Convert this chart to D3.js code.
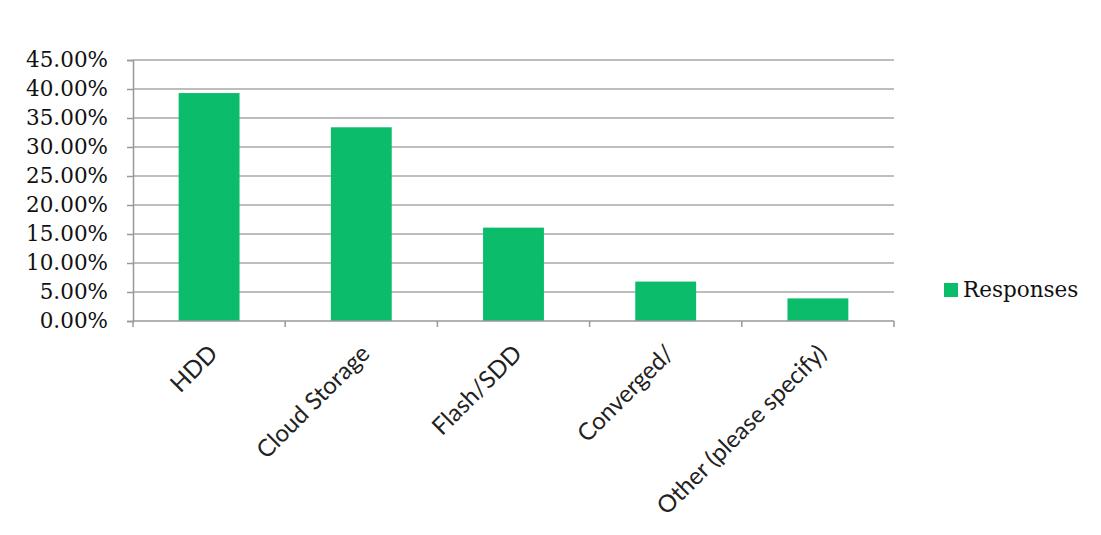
<!DOCTYPE html>
<html>
<head>
<meta charset="utf-8">
<script src="https://cdn.jsdelivr.net/npm/d3@7"></script>
<style>
  body { margin: 0; background: #fff; }
</style>
</head>
<body>
<svg id="chart" width="1101" height="535"></svg>
<script>
// chart data
const categories = ['HDD', 'Cloud Storage', 'Flash/SDD', 'Converged/', 'Other (please specify)'];
const responses = [39.3, 33.4, 16.1, 6.8, 3.9];
const yTicks = [0, 5, 10, 15, 20, 25, 30, 35, 40, 45];
const seriesName = 'Responses';

const svg = d3.select('#chart');
const margin = { left: 133, right: 207, top: 60, bottom: 214 };
const width = 1101 - margin.left - margin.right;
const height = 535 - margin.top - margin.bottom;
const green = '#0bbd6a';

const g = svg.append('g').attr('transform', `translate(${margin.left},${margin.top})`);

const x = d3.scaleBand().domain(categories).range([0, width]).paddingInner(0.6).paddingOuter(0.3);
const y = d3.scaleLinear().domain([0, 45]).range([height, 0]);

// gridlines
g.append('g')
    .selectAll('line')
    .data(yTicks.slice(1))
    .enter().append('line')
    .attr('x1', 0).attr('x2', width)
    .attr('y1', d => y(d)).attr('y2', d => y(d))
    .attr('stroke', '#bdbdbd')
    .attr('stroke-width', 2);

// bars
g.append('g')
    .selectAll('rect')
    .data(responses)
    .enter().append('rect')
    .attr('x', (d, i) => x(categories[i]))
    .attr('y', d => y(d))
    .attr('width', x.bandwidth())
    .attr('height', d => height - y(d))
    .attr('fill', green);

// y axis
const yAxis = g.append('g')
    .call(d3.axisLeft(y).tickValues(yTicks).tickFormat(d => d.toFixed(2) + '%').tickSize(6).tickPadding(19));
yAxis.selectAll('line, path').attr('stroke', '#999').attr('stroke-width', 1.5);
yAxis.selectAll('text')
    .attr('fill', '#111')
    .style('font-family', '"DejaVu Serif", serif')
    .style('font-size', '21.5px');

// x axis, ticks at band boundaries
const bounds = d3.range(categories.length + 1).map(i => i * width / categories.length);
const xAxis = g.append('g').attr('transform', `translate(0,${height})`);
xAxis.append('line').attr('x1', 0).attr('x2', width).attr('stroke', '#999').attr('stroke-width', 1.5);
xAxis.selectAll('.tk')
    .data(bounds)
    .enter().append('line')
    .attr('class', 'tk')
    .attr('x1', d => d).attr('x2', d => d)
    .attr('y1', 0).attr('y2', 6)
    .attr('stroke', '#999').attr('stroke-width', 1.5);

xAxis.selectAll('.cat')
    .data(categories)
    .enter().append('text')
    .attr('class', 'cat')
    .attr('transform', d => `translate(${x(d) + x.bandwidth() / 2 + 10},${34}) rotate(-45)`)
    .attr('text-anchor', 'end')
    .attr('fill', '#222')
    .style('font-family', 'Lato, sans-serif')
    .style('font-size', '24px')
    .text(d => d);

// legend
const legend = svg.append('g').attr('transform', 'translate(944,283)');
legend.append('rect').attr('width', 14).attr('height', 14).attr('fill', green);
legend.append('text')
    .attr('x', 19).attr('y', 14)
    .attr('fill', '#111')
    .style('font-family', '"DejaVu Serif", serif')
    .style('font-size', '21.5px')
    .text(seriesName);
</script>
</body>
</html>
